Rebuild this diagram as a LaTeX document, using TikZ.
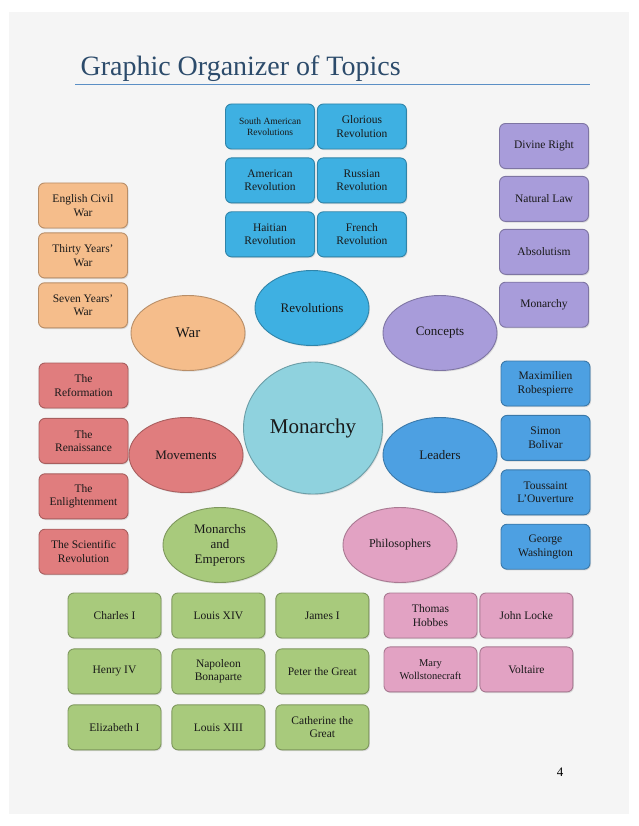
\documentclass[tikz,border=0pt]{standalone}
\usepackage{fontspec}
\setmainfont{Liberation Serif}
\usetikzlibrary{
  positioning,
  shapes.geometric,
  shadows
}
\definecolor{paper}{RGB}{245,245,245}
\definecolor{titleblue}{RGB}{44,75,107}
\definecolor{ruleblue}{RGB}{91,143,197}
\definecolor{revblue}{RGB}{62,176,226}
\definecolor{warorange}{RGB}{245,189,139}
\definecolor{conpurple}{RGB}{168,156,218}
\definecolor{movred}{RGB}{224,125,126}
\definecolor{leadblue}{RGB}{77,160,226}
\definecolor{kinggreen}{RGB}{168,202,124}
\definecolor{philpink}{RGB}{226,162,195}
\definecolor{crownteal}{RGB}{143,210,222}

\begin{document}
\begin{tikzpicture}[x=1pt, y=-1pt,
            item/.style={rectangle, draw=#1!75!black, fill=#1, text=black!90, font=\fontsize{11.5}{13.5}\selectfont, align=center, rounded corners=6pt, line width=0.9pt, minimum width=89pt, minimum height=45pt, inner sep=2pt, drop shadow={shadow xshift=1pt, shadow yshift=-1.2pt, opacity=0.25}},
            wide/.style={minimum width=93pt},
            topic/.style={ellipse, draw=#1!75!black, fill=#1, text=black!90, font=\fontsize{13}{15}\selectfont, align=center, line width=0.9pt, minimum width=114pt, minimum height=75pt, inner sep=0pt, drop shadow={shadow xshift=1pt, shadow yshift=-1.2pt, opacity=0.2}}]
            % page
            \fill [white] (0,0) rectangle (638,826);
            \fill [paper] (9,12) rectangle (629,814);
            \node [anchor=base west, text=titleblue, font=\fontsize{28}{32}\selectfont] (title) at (77,76) {Graphic Organizer of Topics};
            \draw [ruleblue, line width=1pt] (75,85) -- (590,85);

            % revolutions
            \node [item=revblue, font=\fontsize{9.5}{11}\selectfont] (southam) at (270,126.5) {South American\\Revolutions};
            \node [item=revblue, right=2pt of southam] (glorious) {Glorious\\Revolution};
            \node [item=revblue, below=8pt of southam] (american) {American\\Revolution};
            \node [item=revblue, right=2pt of american] (russian) {Russian\\Revolution};
            \node [item=revblue, below=8pt of american] (haitian) {Haitian\\Revolution};
            \node [item=revblue, right=2pt of haitian] (french) {French\\Revolution};

            % wars
            \node [item=warorange] (civil) at (83,205.5) {English Civil\\War};
            \node [item=warorange, below=4pt of civil] (thirty) {Thirty Years'\\War};
            \node [item=warorange, below=4pt of thirty] (seven) {Seven Years'\\War};

            % concepts
            \node [item=conpurple] (divine) at (544,146) {Divine Right};
            \node [item=conpurple, below=7pt of divine] (natural) {Natural Law};
            \node [item=conpurple, below=7pt of natural] (absolut) {Absolutism};
            \node [item=conpurple, below=7pt of absolut] (monconcept) {Monarchy};

            % movements
            \node [item=movred] (reform) at (83.5,385.5) {The\\Reformation};
            \node [item=movred, below=9.5pt of reform] (renais) {The\\Renaissance};
            \node [item=movred, below=9.5pt of renais] (enlight) {The\\Enlightenment};
            \node [item=movred, below=9.5pt of enlight] (science) {The Scientific\\Revolution};

            % leaders
            \node [item=leadblue] (robesp) at (545.5,383.5) {Maximilien\\Robespierre};
            \node [item=leadblue, below=8.5pt of robesp] (bolivar) {Simon\\Bolivar};
            \node [item=leadblue, below=8.5pt of bolivar] (louverture) {Toussaint\\L'Ouverture};
            \node [item=leadblue, below=8.5pt of louverture] (washington) {George\\Washington};

            % topics
            \node [topic=warorange, font=\fontsize{15}{17}\selectfont] (war) at (188,333) {War};
            \node [topic=revblue] (revol) at (312,308) {Revolutions};
            \node [topic=conpurple] (concepts) at (440,333) {Concepts};
            \node [topic=crownteal, minimum width=139pt, minimum height=132pt, font=\fontsize{21}{24}\selectfont] (monarchy) at (313,428) {Monarchy};
            \node [topic=movred] (movements) at (186,455) {Movements};
            \node [topic=leadblue] (leaders) at (440,455) {Leaders};
            \node [topic=kinggreen] (monarchs) at (220,545) {Monarchs\\and\\Emperors};
            \node [topic=philpink, font=\fontsize{12}{14}\selectfont] (philos) at (400,545) {Philosophers};

            % monarchs and emperors
            \node [item=kinggreen, wide] (charles) at (114.5,615.5) {Charles I};
            \node [item=kinggreen, wide, right=10pt of charles] (louis14) {Louis XIV};
            \node [item=kinggreen, wide, right=10pt of louis14] (james) {James I};
            \node [item=kinggreen, wide, below=10pt of charles] (henry) {Henry IV};
            \node [item=kinggreen, wide, right=10pt of henry] (napoleon) {Napoleon\\Bonaparte};
            \node [item=kinggreen, wide, right=10pt of napoleon] (peter) {Peter the Great};
            \node [item=kinggreen, wide, below=10pt of henry] (elizabeth) {Elizabeth I};
            \node [item=kinggreen, wide, right=10pt of elizabeth] (louis13) {Louis XIII};
            \node [item=kinggreen, wide, right=10pt of louis13] (catherine) {Catherine the\\Great};

            % philosophers
            \node [item=philpink, wide] (hobbes) at (430.5,615.5) {Thomas\\Hobbes};
            \node [item=philpink, wide, right=2pt of hobbes] (locke) {John Locke};
            \node [item=philpink, wide, below=8pt of hobbes, font=\fontsize{10.5}{12.5}\selectfont] (wollst) {Mary\\Wollstonecraft};
            \node [item=philpink, wide, right=2pt of wollst] (voltaire) {Voltaire};

            \node [font=\fontsize{13}{15}\selectfont] (pagenum) at (560,772) {4};
        \end{tikzpicture}
\end{document}
